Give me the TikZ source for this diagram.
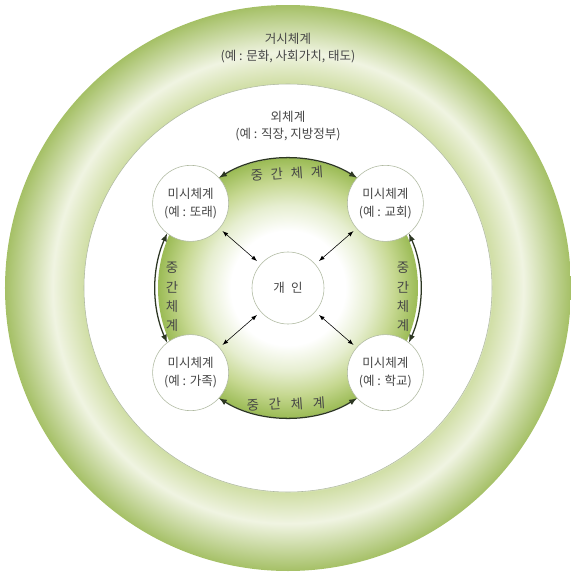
\documentclass[tikz,border=0pt]{standalone}
\usepackage{fontspec}
\setmainfont{Noto Sans CJK KR}
\usetikzlibrary{positioning, calc, arrows}
\definecolor{Ring-in}{RGB}{208,222,165}
\definecolor{Ring-mid}{RGB}{240,244,226}
\definecolor{Ring-out}{RGB}{165,192,102}
\definecolor{Meso-1}{RGB}{230,238,208}
\definecolor{Meso-2}{RGB}{198,216,145}
\definecolor{Meso-3}{RGB}{155,187,85}
\definecolor{Text-1}{RGB}{70,70,70}
\definecolor{Line-1}{RGB}{175,185,160}
\definecolor{Arc-1}{RGB}{45,55,35}
\pgfdeclareradialshading{macroring}{\pgfpointorigin}{color(0bp)=(white); color(17.9bp)=(white); color(18.05bp)=(Ring-in); color(20.8bp)=(Ring-mid); color(25bp)=(Ring-out); color(50bp)=(Ring-out)}
\pgfdeclareradialshading{mesoring}{\pgfpointorigin}{color(0bp)=(white); color(11bp)=(white); color(16bp)=(Meso-1); color(20.5bp)=(Meso-2); color(25bp)=(Meso-3); color(50bp)=(Meso-3)}

\begin{document}
\begin{tikzpicture}[x=0.025cm, y=0.025cm]
      \tikzset{ lbl/.style ={text=Text-1, font=\fontsize{8.9}{12.5}\selectfont, align=center} }
      \tikzset{ msys/.style={lbl, draw=Line-1, circle, fill=white, minimum size=1.9cm, inner sep=0pt} }
      \tikzset{ csys/.style={lbl, draw=Line-1, circle, fill=white, minimum size=1.8cm, inner sep=0pt} }
      \tikzset{ chr/.style ={text=Text-1, font=\fontsize{9.5}{10}\selectfont, inner sep=0pt} }
      \tikzset{ link/.style={<->, >=latex, black, shorten <=0.1cm, shorten >=0.12cm} }
      \tikzset{ meso/.style={<->, >=latex, draw=Arc-1, line width=0.9pt, looseness=0.9} }

      \useasboundingbox (-288,-286) rectangle (286,288);
      \shade[shading=macroring] (0,0) circle [radius=283];
      \draw[Line-1, fill=white] (0,0) circle [radius=204];
      \shade[shading=mesoring] (0,0) circle [radius=130];

      \node[lbl] (macro) at (0,240) {거시체계\\(예 : 문화, 사회가치, 태도)};
      \node[lbl] (exo)   at (0,162) {외체계\\(예 : 직장, 지방정부)};

      \node[csys] (ind) at (0,0)      {개\hspace{0.5em}인};
      \node[msys] (m1)  at (139:129)  {미시체계\\(예 : 또래)};
      \node[msys] (m2)  at (41:129)   {미시체계\\(예 : 교회)};
      \node[msys] (m3)  at (221:129)  {미시체계\\(예 : 가족)};
      \node[msys] (m4)  at (319:129)  {미시체계\\(예 : 학교)};

      \draw[link] (m1) -- (ind);
      \draw[link] (m2) -- (ind);
      \draw[link] (m3) -- (ind);
      \draw[link] (m4) -- (ind);

      \draw[meso] (m1.42)  to[out=32,  in=148] (m2.138);
      \draw[meso] (m1.232) to[out=246, in=114] (m3.128);
      \draw[meso] (m3.318) to[out=328, in=212] (m4.222);
      \draw[meso] (m2.308) to[out=294, in=66]  (m4.52);

      % mesosystem labels
      \foreach \c [count=\i] in {중,간,체,계} {
        \node[chr, rotate=4] (mt\i) at ({-51+20*\i},{111+1.3*\i}) {\c};
        \node[chr, rotate=4] (mb\i) at ({-57+22*\i},{-118+0.8*\i}) {\c};
        \node[chr] (ml\i) at (-116,{39-19*\i}) {\c};
        \node[chr] (mr\i) at (115,{39-19*\i}) {\c};
      }
    \end{tikzpicture}
\end{document}
